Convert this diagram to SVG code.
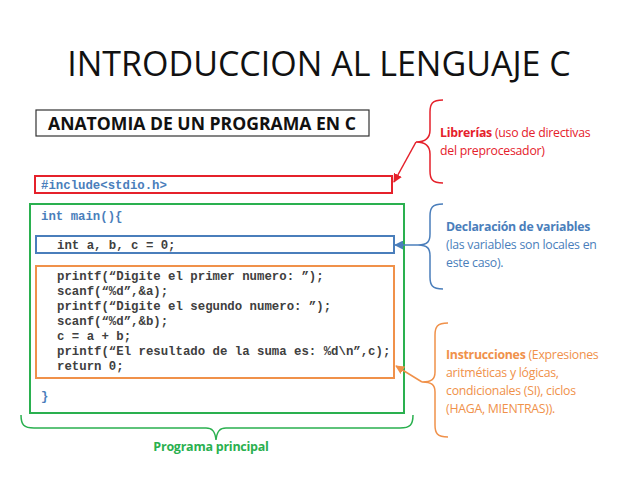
<svg xmlns="http://www.w3.org/2000/svg" width="638" height="478" viewBox="0 0 638 478">
<style>
.code{font-family:"Liberation Mono",monospace;font-weight:bold;font-size:12.35px;fill:#404040}
.blue{fill:#4a7ebb}
.lbl{font-family:"Open Sans","Liberation Sans",sans-serif;font-size:12.3px;letter-spacing:-0.25px}
.br{fill:none;stroke-width:1.5}
</style>
<defs>
<marker id="ar" viewBox="0 0 10 10" refX="9" refY="5" markerWidth="6" markerHeight="6" orient="auto"><path d="M0,0L10,5L0,10z" fill="context-stroke"/></marker>
</defs>
<rect width="638" height="478" fill="#fff"/>
<text x="319" y="76" text-anchor="middle" font-family="Open Sans,Liberation Sans,sans-serif" font-size="34" fill="#111">INTRODUCCION AL LENGUAJE C</text>
<g id="anatomia"><rect x="36" y="110" width="333" height="26" fill="none" stroke="#333" stroke-width="1.2"/>
<text x="202" y="129.5" text-anchor="middle" font-family="Open Sans,Liberation Sans,sans-serif" font-weight="bold" font-size="17.6" fill="#111">ANATOMIA DE UN PROGRAMA EN C</text></g>
<g id="main"><rect x="30" y="204" width="374" height="209" fill="none" stroke="#2ab04f" stroke-width="2"/>
<text class="code blue" x="41" y="220">int main(){</text>
<text class="code blue" x="41" y="400">}</text></g>
<g id="include"><rect x="35" y="176" width="357" height="17" fill="none" stroke="#e5212b" stroke-width="2"/>
<text class="code blue" x="41" y="189">#include&lt;stdio.h&gt;</text></g>
<g id="decl"><rect x="36" y="236" width="358" height="17" fill="none" stroke="#4a7ebb" stroke-width="2"/>
<text class="code" x="57" y="249">int a, b, c = 0;</text></g>
<g id="instr"><rect x="36" y="266" width="358" height="112" fill="none" stroke="#f0914a" stroke-width="2"/>
<text class="code" x="57" y="280">printf(“Digite el primer numero: ”);</text>
<text class="code" x="57" y="295">scanf(“%d”,&amp;a);</text>
<text class="code" x="57" y="310">printf(“Digite el segundo numero: ”);</text>
<text class="code" x="57" y="325">scanf(“%d”,&amp;b);</text>
<text class="code" x="57" y="340">c = a + b;</text>
<text class="code" x="57" y="355">printf(“El resultado de la suma es: %d\n”,c);</text>
<text class="code" x="57" y="370">return 0;</text></g>
<g id="lib-label"><path class="br" stroke="#e5212b" d="M443,100C432,100 430,104 430,112V130C430,138 426,142 416,142C426,142 430,146 430,154V171C430,179 432,183 443,183"/>
<text class="lbl" x="440" y="137"><tspan fill="#e5212b" font-weight="bold">Librerías</tspan><tspan fill="#e5212b"> (uso de directivas</tspan></text>
<text class="lbl" x="440" y="155" fill="#e5212b">del preprocesador)</text></g>
<g id="decl-label"><path class="br" stroke="#4a7ebb" d="M443,204C432,204 430,208 430,216V234C430,241 428,245 418,245C428,245 430,249 430,256V277C430,285 432,289 443,289"/>
<text class="lbl" x="446" y="231" fill="#4a7ebb" font-weight="bold">Declaración de variables</text>
<text class="lbl" x="446" y="249" fill="#4a7ebb">(las variables son locales en</text>
<text class="lbl" x="446" y="267" fill="#4a7ebb">este caso).</text></g>
<g id="instr-label"><path class="br" stroke="#f0914a" d="M448,323C437,323 435,327 435,335V372C435,379 432,382 422,382C432,382 435,385 435,392V425C435,433 437,437 448,437"/>
<text class="lbl" x="446" y="359" fill="#f0914a"><tspan font-weight="bold">Instrucciones</tspan> (Expresiones</text>
<text class="lbl" x="446" y="377" fill="#f0914a">aritméticas y lógicas,</text>
<text class="lbl" x="446" y="395" fill="#f0914a">condicionales (SI), ciclos</text>
<text class="lbl" x="446" y="413" fill="#f0914a">(HAGA, MIENTRAS)).</text></g>
<g id="programa"><path class="br" stroke="#2ab04f" d="M21,415C21,425 24,428 34,428H206C212,428 215,431 216,440C217,431 220,428 226,428H400C410,428 413,425 413,415"/>
<text x="211" y="451" text-anchor="middle" font-family="Open Sans,Liberation Sans,sans-serif" font-weight="bold" font-size="12.5" letter-spacing="-0.25" fill="#2ab04f">Programa principal</text></g>
<g id="connectors" fill="none" stroke-width="1.5">
<path d="M416,142L394,182" stroke="#e5212b" marker-end="url(#ar)"/>
<path d="M418,245L395,245" stroke="#4a7ebb" marker-end="url(#ar)"/>
<path d="M422,382L396,366" stroke="#f0914a" marker-end="url(#ar)"/>
</g>
</svg>
